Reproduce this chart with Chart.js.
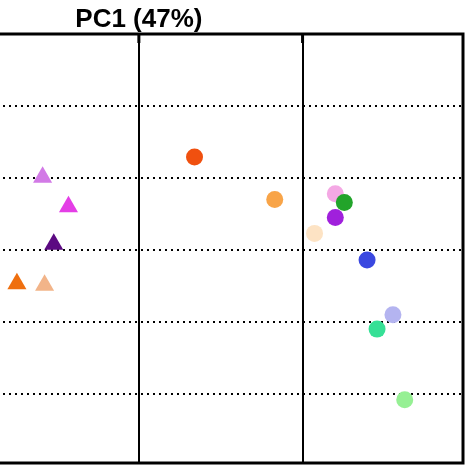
<!DOCTYPE html>
<html>
<head>
<script src="https://cdn.jsdelivr.net/npm/chart.js@4"></script>
<style>
  html, body { margin: 0; padding: 0; background: #fff; overflow: hidden; }
  #wrap { width: 482px; height: 474px; margin-left: -8px; }
</style>
</head>
<body>
<div id="wrap"><canvas id="grafico"></canvas></div>
<script>
const titulo = 'PC1 (47%)';

// triangulos
const triX = [-0.588, -0.43, -0.52, -0.745, -0.576];
const triY = [4.01, 3.60, 3.08, 2.53, 2.51];
const triCores = ['#d27ae6', '#e43ee6', '#5c0a82', '#ef6f0f', '#f2b489'];

// circulos
const circX = [0.34, 0.83, 1.20, 1.255, 1.20, 1.073, 1.394, 1.552, 1.455, 1.624];
const circY = [4.29, 3.70, 3.78, 3.66, 3.45, 3.23, 2.86, 2.10, 1.90, 0.92];
const circCores = ['#f0500f', '#f8a448', '#f4a8e4', '#22a42a', '#a020dc', '#fde3c4', '#3a48e0', '#b4b4f0', '#36e096', '#96f094'];

const linhasX = [0, 1];
const linhasY = [1, 2, 3, 4, 5];

const pontos = (xs, ys) => xs.map((x, i) => ({ x: x, y: ys[i] }));

const molduraPlugin = {
  id: 'moldura',
  afterDraw(chart) {
    const c = chart.ctx, a = chart.chartArea, sx = chart.scales.x;
    c.save();
    c.strokeStyle = '#000';
    c.lineWidth = 3;
    c.strokeRect(a.left - 20, a.top, a.right - a.left + 20, a.bottom - a.top);
    linhasX.forEach(v => {
      const px = sx.getPixelForValue(v);
      c.beginPath();
      c.moveTo(px, a.top);
      c.lineTo(px, a.top + 9);
      c.stroke();
    });
    c.fillStyle = '#000';
    c.font = 'bold 26px Arial, "Liberation Sans", sans-serif';
    c.textAlign = 'center';
    c.textBaseline = 'alphabetic';
    c.fillText(titulo, sx.getPixelForValue(0), a.top - 7);
    c.restore();
  }
};

new Chart(document.getElementById('grafico').getContext('2d'), {
  type: 'scatter',
  data: {
    datasets: [
      {
        data: pontos(triX, triY),
        pointStyle: 'triangle',
        pointRadius: 11,
        pointHoverRadius: 11,
        pointBackgroundColor: triCores,
        pointBorderWidth: 0
      },
      {
        data: pontos(circX, circY),
        pointStyle: 'circle',
        pointRadius: 8.5,
        pointHoverRadius: 8.5,
        pointBackgroundColor: circCores,
        pointBorderWidth: 0
      }
    ]
  },
  options: {
    responsive: true,
    maintainAspectRatio: false,
    animation: false,
    layout: { padding: { top: 34, right: 10, bottom: 6, left: 0 } },
    plugins: { legend: { display: false }, tooltip: { enabled: false } },
    scales: {
      x: {
        type: 'linear',
        min: -0.83,
        max: 1.98,
        ticks: { display: false, stepSize: 1 },
        border: { display: false },
        grid: {
          drawTicks: false,
          lineWidth: 2,
          color: ctx => linhasX.includes(ctx.tick && ctx.tick.value) ? '#000' : 'rgba(0,0,0,0)'
        }
      },
      y: {
        type: 'linear',
        min: 0.04,
        max: 6,
        ticks: { display: false, stepSize: 1 },
        border: { display: false, dash: [2, 4] },
        grid: {
          drawTicks: false,
          lineWidth: 2,
          color: ctx => linhasY.includes(ctx.tick && ctx.tick.value) ? '#000' : 'rgba(0,0,0,0)'
        }
      }
    }
  },
  plugins: [molduraPlugin]
});
</script>
</body>
</html>
